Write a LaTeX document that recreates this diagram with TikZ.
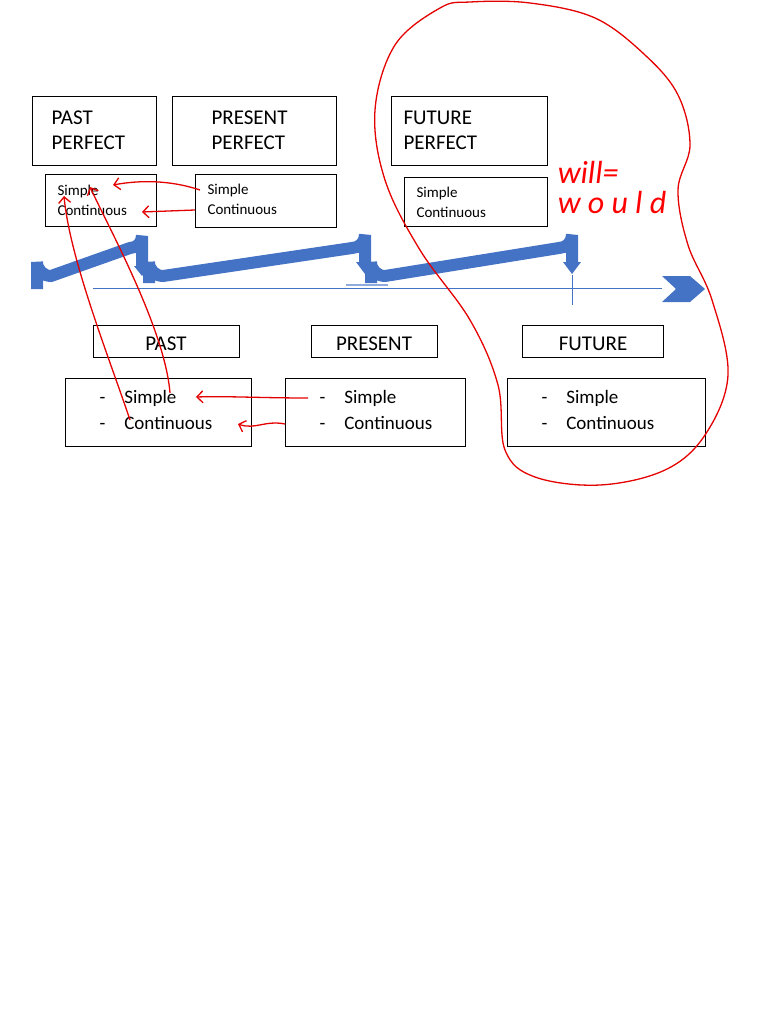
\documentclass[tikz,border=0pt]{standalone}
\usepackage{fontspec}
\setmainfont{Carlito}
\usetikzlibrary{arrows.meta}
\begin{document}
\begin{tikzpicture}[x=1pt,y=-1pt,
 box/.style={draw,line width=0.8pt,inner sep=0pt},
 big/.style={font=\fontsize{21}{25}\selectfont},
 small/.style={font=\fontsize{15}{20}\selectfont},
 mid/.style={font=\fontsize{19}{26}\selectfont},
 blue/.style={draw=none,fill=blue!50!cyan!60!black!85},
 band/.style={line width=12pt,draw={rgb,255:red,68;green,114;blue,196}},
 red/.style={draw=red!90!black,line width=1.3pt},
 rarr/.style={red,-{Straight Barb[length=6pt,width=12pt]}}]
\useasboundingbox (0,0) rectangle (768,1024);
\definecolor{bl}{RGB}{68,114,196}
% top boxes
\draw[box] (32,96) rectangle (156,165); \node[big,align=left,anchor=west] (pp) at (48,130) {PAST\\PERFECT};
\draw[box] (172,96) rectangle (336,165); \node[big,align=left,anchor=west] (prp) at (208,130) {PRESENT\\PERFECT};
\draw[box] (391,96) rectangle (547,165); \node[big,align=left,anchor=west] (fp) at (400,130) {FUTURE\\PERFECT};
\draw[box] (45,174) rectangle (156,226); \node[small,align=left,anchor=west] (pps) at (54,200) {Simple\\Continuous};
\draw[box] (195,174) rectangle (336,227); \node[small,align=left,anchor=west] (prps) at (204,199) {Simple\\Continuous};
\draw[box] (404,177) rectangle (547,226); \node[small,align=left,anchor=west] (fps) at (413,202) {Simple\\Continuous};
% blue bands
\draw[band] (37,289) -- (37,262) arc[start angle=180,end angle=90,radius=14] -- (130,248) arc[start angle=90,end angle=0,radius=12] -- (142,268);
\fill[bl] (134,266) -- (150,266) -- (142,276) -- cycle;
\draw[band] (149,283) -- (149,262) arc[start angle=180,end angle=90,radius=14] -- (352,248) arc[start angle=90,end angle=0,radius=13] -- (365,262);
\fill[bl] (356,262) -- (374,262) -- (365,274) -- cycle;
\draw[band] (371,283) -- (371,262) arc[start angle=180,end angle=90,radius=14] -- (559,248) arc[start angle=90,end angle=0,radius=13] -- (572,262);
\fill[bl] (563,262) -- (581,262) -- (572,274) -- cycle;
\draw[bl,line width=0.8pt] (93,288) -- (662,288);
\draw[bl,line width=0.8pt] (572,275) -- (572,305);
\draw[bl!60,line width=1.2pt] (346,285) -- (388,285);
\fill[bl] (662,276) -- (690,276) -- (705,289) -- (690,302) -- (662,302) -- (676,289) -- cycle;
% tense boxes
\draw[box] (93,325) rectangle (239,357); \node[big] (past) at (166,344) {PAST};
\draw[box] (311,325) rectangle (437,357); \node[big] (pres) at (374,344) {PRESENT};
\draw[box] (522,325) rectangle (663,357); \node[big] (fut) at (593,344) {FUTURE};
\draw[box] (65,378) rectangle (251,446); \node[mid,align=left,anchor=west] (pl) at (96,410) {-\quad Simple\\-\quad Continuous};
\draw[box] (285,378) rectangle (465,446); \node[mid,align=left,anchor=west] (prl) at (316,410) {-\quad Simple\\-\quad Continuous};
\draw[box] (507,378) rectangle (705,446); \node[mid,align=left,anchor=west] (fl) at (538,410) {-\quad Simple\\-\quad Continuous};
% red annotations
\draw[red,smooth cycle,tension=0.6] plot coordinates {(440,8) (395,45) (375,110) (385,180) (420,250) (470,320) (498,385) (505,450) (535,477) (600,485) (665,470) (705,435) (728,375) (712,300) (688,245) (678,190) (690,145) (678,95) (645,55) (595,18) (530,3) (470,2)};
\node[text=red,font=\fontsize{32}{30}\selectfont\itshape,align=left] (will) at (612,188) {will=\\w o u l d};
\coordinate (a1) at (200,190); \coordinate (a1e) at (113,185);
\draw[rarr] (a1) .. controls (170,180) and (140,180) .. (a1e);
\coordinate (a2) at (195,210); \coordinate (a2e) at (142,212);
\draw[rarr] (a2) -- (a2e);
\coordinate (b1) at (308,398); \coordinate (b1e) at (196,397);
\draw[rarr] (b1) .. controls (260,398) and (230,396) .. (b1e);
\coordinate (b2) at (285,424); \coordinate (b2e) at (238,424);
\draw[rarr] (b2) .. controls (265,420) and (255,430) .. (b2e);
\coordinate (c1) at (170,393); \coordinate (c1e) at (90,187);
\draw[rarr] (c1) .. controls (165,330) and (110,230) .. (c1e);
\coordinate (c2) at (130,420); \coordinate (c2e) at (64,196);
\draw[rarr] (c2) .. controls (110,360) and (70,260) .. (c2e);
\end{tikzpicture}
\end{document}
